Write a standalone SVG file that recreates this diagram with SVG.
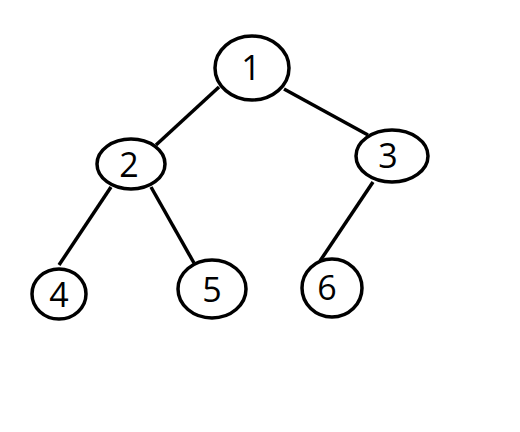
<svg xmlns="http://www.w3.org/2000/svg" width="520" height="432" viewBox="0 0 520 432">
<style>
.n ellipse{fill:#fff;stroke:#000;stroke-width:3.5}
.n text{font-family:"Open Sans","Noto Sans",sans-serif;font-size:34px;fill:#000;text-anchor:middle}
.e line{stroke:#000;stroke-width:3.5}
</style>
<rect width="520" height="432" fill="#fff"/>
<g class="e" id="edges">
<line x1="219" y1="87" x2="156" y2="145"/>
<line x1="284" y1="89" x2="368" y2="135"/>
<line x1="111" y1="187" x2="59" y2="265"/>
<line x1="151" y1="187" x2="194" y2="263"/>
<line x1="373" y1="182" x2="320" y2="261"/>
</g>
<g class="n" id="n1"><ellipse cx="252" cy="68" rx="37" ry="32"/><text x="251" y="80">1</text></g>
<g class="n" id="n2"><ellipse cx="131" cy="164" rx="34" ry="25"/><text x="129" y="177">2</text></g>
<g class="n" id="n3"><ellipse cx="392" cy="156" rx="36" ry="26"/><text x="388" y="168">3</text></g>
<g class="n" id="n4"><ellipse cx="59" cy="294" rx="27" ry="25"/><text x="59" y="307">4</text></g>
<g class="n" id="n5"><ellipse cx="212" cy="289" rx="34" ry="29"/><text x="212" y="302">5</text></g>
<g class="n" id="n6"><ellipse cx="332" cy="288" rx="30" ry="29"/><text x="327" y="300">6</text></g>
</svg>
